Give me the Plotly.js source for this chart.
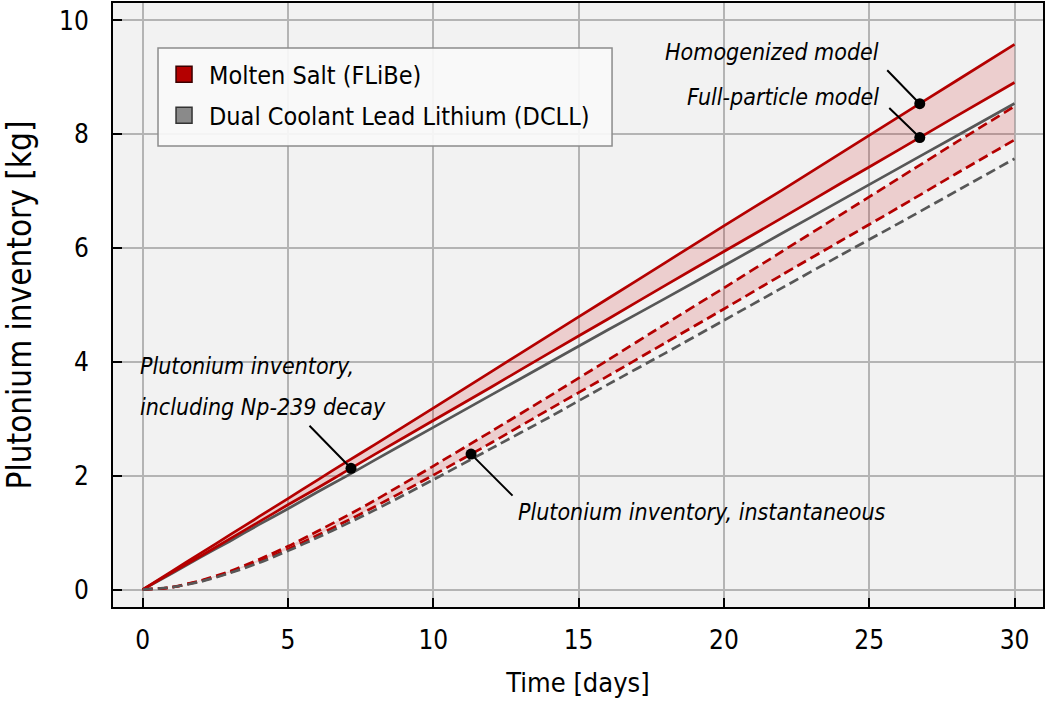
<!DOCTYPE html>
<html>
<head>
<meta charset="utf-8">
<script src="https://cdn.plot.ly/plotly-3.0.1.min.js"></script>
<style>
  html, body { margin: 0; padding: 0; background: #ffffff; }
  #chart { width: 1048px; height: 701px; }
</style>
</head>
<body>
<div id="chart"></div>
<script>
// ---- data ----
var days = [0, 1, 2, 3, 4, 5, 6, 7, 8, 10, 12, 14, 16, 18, 20, 22, 24, 26, 28, 30];

// Molten salt (FLiBe), including Np-239 decay
var flibeHomogTotal = [0, 0.32, 0.64, 0.96, 1.28, 1.60, 1.92, 2.24, 2.55, 3.19, 3.83, 4.47, 5.11, 5.75, 6.39, 7.02, 7.66, 8.30, 8.94, 9.58];
var flibeFullTotal  = [0, 0.30, 0.59, 0.89, 1.19, 1.49, 1.78, 2.08, 2.38, 2.97, 3.56, 4.16, 4.75, 5.35, 5.94, 6.53, 7.13, 7.72, 8.32, 8.91];
// Molten salt (FLiBe), instantaneous
var flibeHomogInst  = [0, 0.04, 0.16, 0.32, 0.53, 0.76, 1.02, 1.29, 1.57, 2.17, 2.78, 3.40, 4.03, 4.67, 5.30, 5.94, 6.58, 7.22, 7.86, 8.49];
var flibeFullInst   = [0, 0.04, 0.15, 0.30, 0.49, 0.71, 0.95, 1.20, 1.46, 2.01, 2.58, 3.17, 3.75, 4.34, 4.93, 5.53, 6.12, 6.71, 7.31, 7.90];
// DCLL
var dcllTotal       = [0, 0.28, 0.57, 0.85, 1.14, 1.42, 1.71, 1.99, 2.28, 2.85, 3.42, 3.99, 4.56, 5.12, 5.69, 6.26, 6.83, 7.40, 7.97, 8.54];
var dcllInst        = [0, 0.04, 0.14, 0.29, 0.47, 0.68, 0.91, 1.15, 1.40, 1.93, 2.48, 3.03, 3.60, 4.16, 4.73, 5.30, 5.87, 6.43, 7.00, 7.57];

var legendNames = ["Molten Salt (FLiBe)", "Dual Coolant Lead Lithium (DCLL)"];

// annotation callouts: day where the dot sits and the curve it sits on
var calloutDays   = [26.74, 26.74, 7.17, 11.3];
var calloutCurves = [flibeHomogTotal, flibeFullTotal, flibeFullTotal, flibeFullInst];
var calloutTexts  = ["Homogenized model", "Full-particle model",
                     "Plutonium inventory,", "including Np-239 decay",
                     "Plutonium inventory, instantaneous"];

// ---- styles ----
var RED = "#b40000";
var GRAY = "#575757";
var FILL = "rgba(200,0,0,0.15)";
var FONT = "'DejaVu Sans Condensed', 'Liberation Sans Narrow', 'Roboto', sans-serif";

function interp(xs, ys, x) {
  for (var i = 0; i < xs.length - 1; i++) {
    if (x >= xs[i] && x <= xs[i + 1]) {
      var f = (x - xs[i]) / (xs[i + 1] - xs[i]);
      return ys[i] + f * (ys[i + 1] - ys[i]);
    }
  }
  return ys[ys.length - 1];
}

var calloutY = calloutDays.map(function (d, i) { return interp(days, calloutCurves[i], d); });

function line(y, color, dash, fill, fillcolor) {
  var t = {
    type: "scatter", mode: "lines", x: days, y: y, showlegend: false, hoverinfo: "skip",
    line: { color: color, width: 2.7, dash: dash, shape: "spline", smoothing: 0.6 }
  };
  if (fill) { t.fill = fill; t.fillcolor = fillcolor; }
  return t;
}

var traces = [
  // legend entries
  { type: "scatter", mode: "markers", x: [null], y: [null], name: legendNames[0], legend: "legend",
    marker: { symbol: "square", size: 16, color: RED, line: { color: "#3a0000", width: 1.5 } } },
  { type: "scatter", mode: "markers", x: [null], y: [null], name: legendNames[1], legend: "legend2",
    marker: { symbol: "square", size: 16, color: "#8a8a8a", line: { color: "#333333", width: 1.5 } } },
  // DCLL total
  line(dcllTotal, GRAY, "solid"),
  // FLiBe band, total
  line(flibeFullTotal, RED, "solid"),
  line(flibeHomogTotal, RED, "solid", "tonexty", FILL),
  // FLiBe band, instantaneous
  line(flibeFullInst, RED, "10px,5px"),
  line(flibeHomogInst, RED, "10px,5px", "tonexty", FILL),
  line(dcllInst, GRAY, "10px,5px"),
  // callout dots
  { type: "scatter", mode: "markers", x: calloutDays, y: calloutY, showlegend: false, hoverinfo: "skip",
    marker: { color: "#000000", size: 11 } }
];

var annFont = { family: FONT, size: 23, color: "#000000", style: "italic" };
var annotations = [
  // leader lines
  { x: calloutDays[0], y: calloutY[0], text: "", showarrow: true, arrowhead: 0, arrowwidth: 2, arrowcolor: "#000", ax: -34, ay: -35, standoff: 0 },
  { x: calloutDays[1], y: calloutY[1], text: "", showarrow: true, arrowhead: 0, arrowwidth: 2, arrowcolor: "#000", ax: -32, ay: -31, standoff: 0 },
  { x: calloutDays[2], y: calloutY[2], text: "", showarrow: true, arrowhead: 0, arrowwidth: 2, arrowcolor: "#000", ax: -43, ay: -44, standoff: 0 },
  { x: calloutDays[3], y: calloutY[3], text: "", showarrow: true, arrowhead: 0, arrowwidth: 2, arrowcolor: "#000", ax: 43, ay: 43, standoff: 0 },
  // labels
  { x: 25.39, y: 9.45, text: calloutTexts[0], showarrow: false, xanchor: "right", yanchor: "middle", font: annFont },
  { x: 25.39, y: 8.66, text: calloutTexts[1], showarrow: false, xanchor: "right", yanchor: "middle", font: annFont },
  { x: -0.15, y: 3.93, text: calloutTexts[2], showarrow: false, xanchor: "left", yanchor: "middle", font: annFont },
  { x: -0.15, y: 3.21, text: calloutTexts[3], showarrow: false, xanchor: "left", yanchor: "middle", font: annFont },
  { x: 12.83, y: 1.36, text: calloutTexts[4], showarrow: false, xanchor: "left", yanchor: "middle", font: annFont }
];

var axisCommon = {
  showline: true, linewidth: 2, linecolor: "#000", mirror: true,
  ticks: "inside", ticklen: 9, tickwidth: 2, tickcolor: "#000",
  showgrid: true, gridcolor: "#b4b4b4", gridwidth: 2, zeroline: false,
  tickfont: { family: FONT, size: 26, color: "#000" }
};

var legendFont = { family: FONT, size: 25, color: "#000" };
function legendBox(ycenter) {
  return {
    x: 0.0495, y: ycenter, xanchor: "left", yanchor: "middle", traceorder: "normal",
    bgcolor: "rgba(0,0,0,0)", borderwidth: 0,
    font: legendFont, itemsizing: "trace", itemwidth: 40, tracegroupgap: 0
  };
}

var layout = {
  width: 1048, height: 701,
  margin: { l: 113, r: 5, t: 3, b: 94, pad: 0 },
  paper_bgcolor: "#ffffff",
  plot_bgcolor: "#f2f2f2",
  font: { family: FONT, color: "#000" },
  xaxis: Object.assign({}, axisCommon, {
    range: [-1.02, 30.98], tickvals: [0, 5, 10, 15, 20, 25, 30], ticklabelstandoff: 9,
    automargin: false,
    title: { text: "Time [days]", font: { family: FONT, size: 27, color: "#000" }, standoff: 19 }
  }),
  yaxis: Object.assign({}, axisCommon, {
    range: [-0.306, 10.306], tickvals: [0, 2, 4, 6, 8, 10], ticklabelstandoff: 17,
    automargin: false,
    title: { text: "Plutonium inventory [kg]", font: { family: FONT, size: 33, color: "#000" }, standoff: 22 }
  }),
  legend: legendBox(0.8816),
  legend2: legendBox(0.8137),
  showlegend: true,
  shapes: [
    // legend frame
    { type: "rect", xref: "paper", yref: "paper", x0: 0.0484, x1: 0.5366, y0: 0.7632, y1: 0.9255,
      fillcolor: "rgba(250,250,250,0.92)", line: { color: "#8c8c8c", width: 1.5 }, layer: "above" }
  ],
  annotations: annotations
};

Plotly.newPlot("chart", traces, layout, { displayModeBar: false, staticPlot: true });
</script>
</body>
</html>
